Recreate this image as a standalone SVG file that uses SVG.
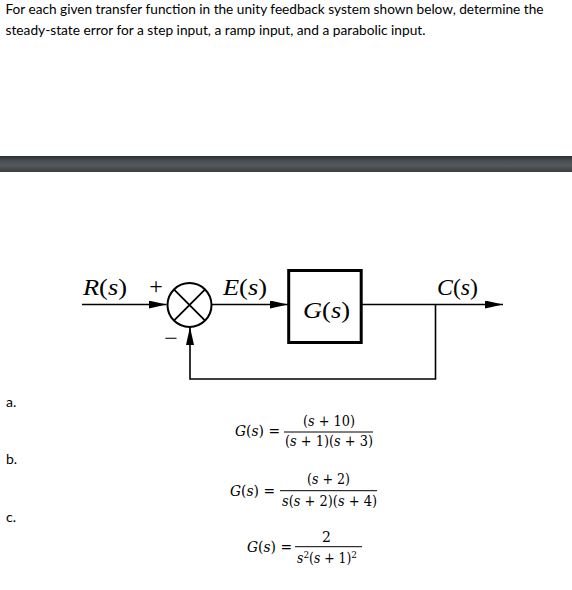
<svg xmlns="http://www.w3.org/2000/svg" width="572" height="590" viewBox="0 0 572 590">
<defs>
<linearGradient id="barg" x1="0" y1="0" x2="0" y2="1">
<stop offset="0" stop-color="#2c2e30"/>
<stop offset="0.3" stop-color="#4a4e51"/>
<stop offset="0.6" stop-color="#55595c"/>
<stop offset="1" stop-color="#3b3d3f"/>
</linearGradient>
<marker id="arr" markerUnits="userSpaceOnUse" markerWidth="18" markerHeight="8" refX="18" refY="4" orient="auto">
<path d="M0,0 L18,4 L0,8 z" fill="#000"/>
</marker>
</defs>
<style>
.t{font-family:Lato,"Liberation Sans",Arial,sans-serif;font-size:14px;fill:#000}
.d{font-family:"Liberation Serif","Times New Roman",serif;font-size:24px;fill:#000}
.m{font-family:"DejaVu Serif","Liberation Serif",serif;font-size:14px;fill:#000}
.i{font-style:italic}
.ln{fill:none;stroke:#000;stroke-width:1.6}
</style>
<rect width="572" height="590" fill="#fff"/>
<g id="title">
<text class="t" x="5.5" y="14" textLength="538" lengthAdjust="spacingAndGlyphs">For each given transfer function in the unity feedback system shown below, determine the</text>
<text class="t" x="5.5" y="34.5" textLength="420" lengthAdjust="spacingAndGlyphs">steady-state error for a step input, a ramp input, and a parabolic input.</text>
</g>
<rect id="bar" x="0" y="156" width="572" height="16" fill="url(#barg)"/>
<g id="connectors">
<path class="ln" d="M82,304.5 H166.5" marker-end="url(#arr)"/>
<path class="ln" d="M211.5,304.5 H288" marker-end="url(#arr)"/>
<path class="ln" d="M362,304.5 H503" marker-end="url(#arr)"/>
<path class="ln" d="M435.5,304.5 V379 H190 V327" marker-end="url(#arr)"/>
</g>
<g id="sum">
<circle cx="189.5" cy="305" r="22" fill="#fff" stroke="#000" stroke-width="2"/>
<path d="M173.9,289.4 L205.1,320.6 M205.1,289.4 L173.9,320.6" stroke="#000" stroke-width="1.8"/>
<text class="d" x="156" y="294" text-anchor="middle" font-size="20">+</text>
<text class="d" x="171" y="346" text-anchor="middle" font-size="20">−</text>
</g>
<g id="G">
<rect x="288.7" y="270.5" width="72.5" height="72" fill="#fff" stroke="#000" stroke-width="3"/>
<text class="d" x="303" y="318" textLength="47" lengthAdjust="spacingAndGlyphs"><tspan class="i">G</tspan>(<tspan class="i">s</tspan>)</text>
</g>
<g id="labels">
<text class="d" x="83" y="295" textLength="44" lengthAdjust="spacingAndGlyphs"><tspan class="i">R</tspan>(<tspan class="i">s</tspan>)</text>
<text class="d" x="223" y="295" textLength="44" lengthAdjust="spacingAndGlyphs"><tspan class="i">E</tspan>(<tspan class="i">s</tspan>)</text>
<text class="d" x="437" y="295" textLength="41" lengthAdjust="spacingAndGlyphs"><tspan class="i">C</tspan>(<tspan class="i">s</tspan>)</text>
</g>
<g id="items">
<text class="t" x="6" y="407">a.</text>
<text class="t" x="6" y="464">b.</text>
<text class="t" x="6" y="522">c.</text>
</g>
<g id="eqa">
<text class="m" x="235" y="436" textLength="45" lengthAdjust="spacingAndGlyphs"><tspan class="i">G</tspan>(<tspan class="i">s</tspan>) =</text>
<text class="m" x="303" y="425.5" textLength="52" lengthAdjust="spacingAndGlyphs">(<tspan class="i">s</tspan> + 10)</text>
<line x1="284" y1="432" x2="373" y2="432" stroke="#000" stroke-width="1"/>
<text class="m" x="285" y="445.5" textLength="88" lengthAdjust="spacingAndGlyphs">(<tspan class="i">s</tspan> + 1)(<tspan class="i">s</tspan> + 3)</text>
</g>
<g id="eqb">
<text class="m" x="230" y="496" textLength="45" lengthAdjust="spacingAndGlyphs"><tspan class="i">G</tspan>(<tspan class="i">s</tspan>) =</text>
<text class="m" x="307" y="484" textLength="43" lengthAdjust="spacingAndGlyphs">(<tspan class="i">s</tspan> + 2)</text>
<line x1="280" y1="490.7" x2="377" y2="490.7" stroke="#000" stroke-width="1"/>
<text class="m" x="282" y="505.5" textLength="95" lengthAdjust="spacingAndGlyphs"><tspan class="i">s</tspan>(<tspan class="i">s</tspan> + 2)(<tspan class="i">s</tspan> + 4)</text>
</g>
<g id="eqc">
<text class="m" x="247" y="551.5" textLength="45" lengthAdjust="spacingAndGlyphs"><tspan class="i">G</tspan>(<tspan class="i">s</tspan>) =</text>
<text class="m" x="326.5" y="541.5" text-anchor="middle">2</text>
<line x1="295" y1="546.7" x2="362" y2="546.7" stroke="#000" stroke-width="1"/>
<text class="m" x="297" y="563" textLength="60" lengthAdjust="spacingAndGlyphs"><tspan class="i">s</tspan><tspan font-size="10" dy="-5">2</tspan><tspan dy="5">(</tspan><tspan class="i">s</tspan> + 1)<tspan font-size="10" dy="-5">2</tspan></text>
</g>
</svg>
